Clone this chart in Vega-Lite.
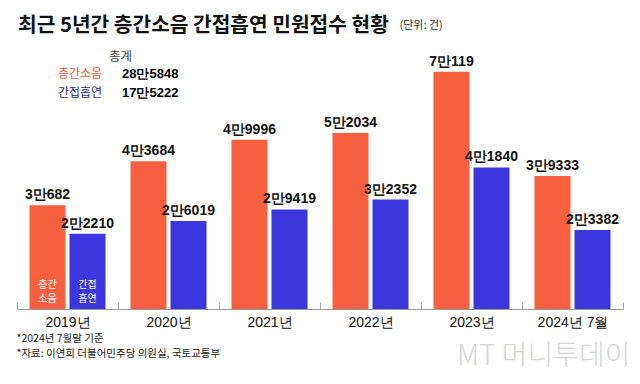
{
  "$schema": "https://vega.github.io/schema/vega-lite/v6.json",
  "width": 606,
  "height": 250,
  "autosize": {"type": "none"},
  "padding": {"left": 17, "top": 59, "right": 17, "bottom": 75},
  "background": "white",
  "config": {"view": {"stroke": null}, "font": "Noto Sans CJK KR", "axis": {"grid": false}},
  "title": {
    "text": "최근 5년간 층간소음 간접흡연 민원접수 현황",
    "anchor": "start",
    "frame": "group",
    "fontSize": 20.3,
    "fontWeight": "bold",
    "font": "Noto Sans CJK KR",
    "color": "#111111",
    "offset": 4,
    "dy": 21,
    "dx": 1
  },
  "data": {
    "values": [
      {"year": "2019년", "series": "층간소음", "value": 30682, "inner": "층간\n소음"},
      {"year": "2019년", "series": "간접흡연", "value": 22210, "inner": "간접\n흡연"},
      {"year": "2020년", "series": "층간소음", "value": 43684},
      {"year": "2020년", "series": "간접흡연", "value": 26019},
      {"year": "2021년", "series": "층간소음", "value": 49996},
      {"year": "2021년", "series": "간접흡연", "value": 29419},
      {"year": "2022년", "series": "층간소음", "value": 52034},
      {"year": "2022년", "series": "간접흡연", "value": 32352},
      {"year": "2023년", "series": "층간소음", "value": 70119},
      {"year": "2023년", "series": "간접흡연", "value": 41840},
      {"year": "2024년 7월", "series": "층간소음", "value": 39333},
      {"year": "2024년 7월", "series": "간접흡연", "value": 23382}
    ]
  },
  "resolve": {"axis": {"y": "independent"}},
  "layer": [
    {
      "mark": {"type": "bar"},
      "encoding": {
        "x": {
          "field": "year", "type": "nominal", "sort": null,
          "scale": {"paddingInner": 0, "paddingOuter": 0},
          "axis": {
            "title": ["*2024년 7월말 기준", "*자료: 이연희 더불어민주당 의원실, 국토교통부"],
            "titleFont": "Noto Sans CJK KR", "titleFontSize": 10.5, "titleFontWeight": "normal",
            "titleColor": "#222222", "titleAnchor": "start", "titleAlign": "left", "titleBaseline": "top",
            "titleX": -1, "titleY": 24, "titleLineHeight": 15,
            "labelFont": "Liberation Sans", "labelFontSize": 14, "labelColor": "#111111", "labelAngle": 0,
            "labelPadding": 13, "domainColor": "#9a9a9a", "tickColor": "#aaaaaa", "tickBand": "extent", "tickSize": -7
          }
        },
        "xOffset": {"field": "series", "type": "nominal", "sort": ["층간소음", "간접흡연"], "scale": {"paddingInner": 0.1, "paddingOuter": 0.3125}},
        "y": {
          "field": "value", "type": "quantitative",
          "scale": {"domain": [0, 73880], "nice": false},
          "axis": {
            "orient": "left", "labels": false, "ticks": false, "domain": false, "grid": false,
            "title": "(단위: 건)", "titleAngle": 0, "titleAlign": "left", "titleBaseline": "middle",
            "titleX": 382, "titleY": -34, "titleFontSize": 11, "titleFontWeight": "normal",
            "titleColor": "#333333", "titleFont": "Noto Sans CJK KR"
          }
        },
        "color": {
          "field": "series", "type": "nominal",
          "scale": {"domain": ["층간소음", "간접흡연"], "range": ["#F7603F", "#3A37DF"]},
          "legend": {
            "orient": "none", "legendX": 29, "legendY": -10,
            "title": "총계", "titleFontSize": 12.5, "titleFontWeight": "normal", "titleColor": "#444444",
            "titleFont": "Noto Sans CJK KR", "titlePadding": 6, "titleAnchor": "start",
            "labelFontSize": 12, "labelFont": "Noto Sans CJK KR", "symbolSize": 0, "symbolOpacity": 0,
            "symbolStrokeWidth": 0, "labelOffset": 0, "rowPadding": 7,
            "encode": {
              "title": {"update": {"dx": {"value": 63}, "dy": {"value": 2}}},
              "labels": {"update": {"fill": {"signal": "datum.index === 0 ? '#E45A38' : '#2C2C95'"}}}
            }
          }
        }
      }
    },
    {
      "transform": [{"calculate": "floor(datum.value / 10000) + '만' + (datum.value % 10000)", "as": "label"}],
      "mark": {"type": "text", "font": "Liberation Sans", "fontWeight": "bold", "fontSize": 14, "baseline": "alphabetic", "dy": -6, "color": "#111111"},
      "encoding": {
        "x": {"field": "year", "type": "nominal", "sort": null},
        "xOffset": {"field": "series", "type": "nominal", "sort": ["층간소음", "간접흡연"]},
        "y": {"field": "value", "type": "quantitative", "axis": null},
        "text": {"field": "label", "type": "nominal"}
      }
    },
    {
      "transform": [{"filter": "datum.inner"}],
      "mark": {"type": "text", "font": "Noto Sans CJK KR", "fontSize": 10, "baseline": "bottom", "dy": -19, "color": "white", "lineBreak": "\n", "lineHeight": 14},
      "encoding": {
        "x": {"field": "year", "type": "nominal", "sort": null},
        "xOffset": {"field": "series", "type": "nominal", "sort": ["층간소음", "간접흡연"]},
        "y": {"datum": 0, "type": "quantitative", "axis": null},
        "text": {"field": "inner", "type": "nominal"}
      }
    },
    {
      "transform": [
        {"aggregate": [{"op": "sum", "field": "value", "as": "total"}], "groupby": ["series"]},
        {"calculate": "floor(datum.total / 10000) + '만' + (datum.total % 10000)", "as": "tlabel"}
      ],
      "mark": {"type": "point", "opacity": 0},
      "encoding": {
        "y": {
          "datum": 0, "type": "quantitative",
          "axis": {
            "orient": "right", "labels": false, "ticks": false, "domain": false, "grid": false,
            "title": "MT 머니투데이", "titleAngle": 0, "titleAlign": "right", "titleBaseline": "middle",
            "titleX": 7, "titleY": 297, "titleFontSize": 28, "titleFontWeight": 300, "titleColor": "#d6d6d6",
            "titleFont": "Noto Sans CJK KR"
          }
        },
        "shape": {
          "field": "tlabel", "type": "nominal", "sort": ["28만5848", "17만5222"],
          "legend": {
            "orient": "none", "legendX": 92, "legendY": 8, "title": null,
            "labelFontSize": 13, "labelFont": "Liberation Sans", "labelFontWeight": "bold",
            "symbolSize": 0, "symbolOpacity": 0, "symbolStrokeWidth": 0, "labelOffset": 0, "rowPadding": 5,
            "encode": {
              "labels": {"update": {"fill": {"signal": "datum.index === 0 ? '#E45A38' : '#2C2C95'"}}}
            }
          }
        }
      }
    }
  ]
}
